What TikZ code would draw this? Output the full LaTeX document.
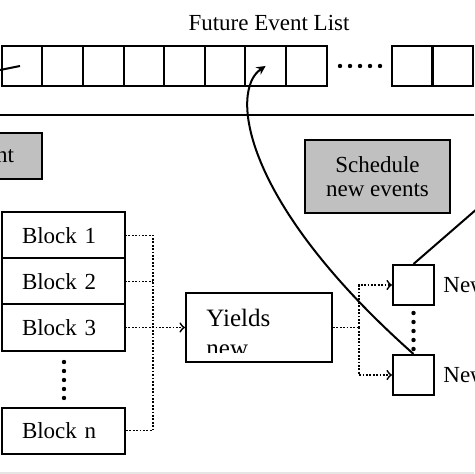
\documentclass[tikz,border=0pt]{standalone}
\usepackage{fontspec}
\setmainfont{Liberation Serif}
\usepackage{xcolor}
\usepackage{tikz}
\usetikzlibrary{positioning}
\definecolor{boxgray}{RGB}{192,192,192}

\begin{document}
\begin{tikzpicture}[x=0.5pt, y=-0.5pt, font=\fontsize{11.5}{12}\selectfont,
  cell/.style={draw, line width=1pt, minimum width=20.3pt, minimum height=20pt, inner sep=0pt, outer sep=0pt},
  blockbox/.style={draw, line width=1pt, text width=41.5pt, align=left, inner xsep=10pt, inner ysep=0pt, minimum height=23pt, outer sep=0pt},
  graybox/.style={draw, line width=1pt, fill=boxgray, inner sep=0pt},
  smallbox/.style={draw, line width=1pt, minimum width=20.5pt, minimum height=20pt, inner sep=0pt},
  listdot/.style={circle, fill, inner sep=0pt, minimum size=2.2pt},
  dotline/.style={line width=0.9pt, dash pattern=on 0.9pt off 0.8pt},
  link/.style={line width=1pt}]
\useasboundingbox (0,0) rectangle (474,474);
\fill[gray!20] (0,471.5) rectangle (474,474);

% Future event list
\node[anchor=base] (fel) at (269,31) {Future Event List};
\foreach \i in {0,...,7}
  \node[cell] (c\i) at ({22+\i*40.6},66) {};
\node[cell] (c8) at (412,66) {};
\node[cell] (c9) at (452.8,66) {};
\foreach \x in {340,350,360,370,380}
  \node[listdot] at (\x,66) {};
\coordinate (stub) at (0,70);
\draw[link] (stub) -- ([xshift=-1pt]c0.center);

% separator
\coordinate (sepl) at (0,115);
\coordinate (sepr) at (474,115);
\draw[link] (sepl) -- (sepr);

% gray boxes
\node[graybox, anchor=east, minimum height=23pt, text width=20pt, align=right, inner xsep=14pt] (cur) at (43,156) {nt};
\node[graybox, minimum width=72.5pt, minimum height=36.5pt, align=center] (sched) at (377.5,176.5) {Schedule\\new events};

% blocks
\node[blockbox] (b1) at (63.5,235.5) {Block 1};
\node[blockbox, below=0pt of b1] (b2) {Block 2};
\node[blockbox, below=0pt of b2] (b3) {Block 3};
\node[blockbox, below=28.5pt of b3] (bn) {Block n};
\foreach \y in {362,371,380,389,398}
  \node[listdot] at (64,\y) {};

% yields box, text cut off at the bottom
\node[draw, line width=1pt, minimum width=73pt, minimum height=34pt, inner sep=0pt] (yields) at (259,327.5) {};
\begin{scope}
\clip (yields.north west) rectangle (332,352);
\node[anchor=base west, inner sep=0pt, font=\fontsize{12.5}{14}\selectfont] (yl1) at (206,327) {Yields};
\node[anchor=base west, inner sep=0pt, font=\fontsize{12.5}{14}\selectfont] (yl2) at (206,356) {new};
\end{scope}

% dotted links from the blocks
\coordinate (jl) at (153,0);
\draw[dotline] (b1.east) -- (b1.east -| jl) -- (bn.east -| jl) -- (bn.east);
\draw[dotline] (b2.east) -- (b2.east -| jl);
\draw[dotline,->] (b3.east) -- (yields.west);

% new events
\node[smallbox] (n1) at (413.5,285) {};
\node[smallbox] (n2) at (413.5,375) {};
\node[right=4pt of n1, inner sep=0pt] (l1) {New};
\node[right=4pt of n2, inner sep=0pt] (l2) {New};
\foreach \y in {313,322,331,340,349}
  \node[listdot] at (413.5,\y) {};

\coordinate (jr) at (359,0);
\draw[dotline] (yields.east) -- (yields.east -| jr);
\draw[dotline,->] (yields.east -| jr) |- (n1.west);
\draw[dotline,->] (yields.east -| jr) |- (n2.west);

% solid links
\coordinate (offr) at (478,208);
\draw[link] (n1.north) -- (offr);
\draw[link,-stealth] (n2.north) .. controls (240,200) and (230,90) .. (c6.center);

\end{tikzpicture}
\end{document}
